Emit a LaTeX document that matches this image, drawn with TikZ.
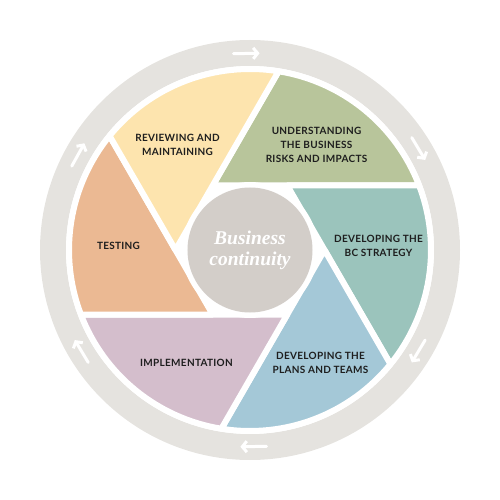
\documentclass[tikz,border=0pt]{standalone}
\usepackage{fontspec}
\setsansfont{Lato}[LetterSpace=3]
\newfontfamily\hubfont{Liberation Serif}
\usetikzlibrary{arrows.meta}
\definecolor{ringgray}{HTML}{E5E3DF}
\definecolor{hubgray}{HTML}{D3CEC9}
\definecolor{bcyellow}{HTML}{FDE4AE}
\definecolor{bcgreen}{HTML}{B8C59B}
\definecolor{bcteal}{HTML}{9BC4BC}
\definecolor{bcblue}{HTML}{A4C8D7}
\definecolor{bcpurple}{HTML}{D4BECC}
\definecolor{bcorange}{HTML}{EBB993}
\definecolor{textdark}{HTML}{1E1E1E}

\begin{document}
\begin{tikzpicture}[x=1pt,y=1pt,
    blade/.style={draw=white,line width=6pt,line join=round},
    phase/.style={align=center,inner sep=0pt,text=textdark,font=\sffamily\bfseries\fontsize{10}{14}\selectfont},
    flow/.style={white,line width=3pt,line cap=round,-{Straight Barb[length=4.5pt,width=11pt]}}]
  \useasboundingbox (-250,-250) rectangle (250,250);
  \fill[ringgray,even odd rule] (0,0) circle[radius=210] (0,0) circle[radius=184];
  \foreach \a in {91,31,-31,-89,-149,151}
    \draw[flow] (\a+3.8:197) -- (\a-3.8:197);
  \foreach \n/\col in {90/bcgreen,30/bcteal,-30/bcblue,-90/bcpurple,-150/bcorange,150/bcyellow}
    \filldraw[blade,fill=\col] (\n+30:74.5) -- (\n-30:74.5) -- (\n-69.1:181)
      arc[start angle=\n-69.1,end angle=\n-9.1,radius=181] -- cycle;
  \fill[white] (0,0) circle[radius=68];
  \node[circle,fill=hubgray,minimum size=125pt,inner sep=0pt,align=center,text=white,
        font=\hubfont\bfseries\itshape\fontsize{19.5}{21}\selectfont] (hub) at (0,0) {Business\\continuity};
  \node[phase] (review) at (-72.5,105.5) {REVIEWING AND\\MAINTAINING};
  \node[phase] (understand) at (66.5,105.5) {UNDERSTANDING\\THE BUSINESS\\RISKS AND IMPACTS};
  \node[phase] (strategy) at (128.5,4) {DEVELOPING THE\\BC STRATEGY};
  \node[phase] (plans) at (70.5,-112.5) {DEVELOPING THE\\PLANS AND TEAMS};
  \node[phase] (implement) at (-63.5,-112.5) {IMPLEMENTATION};
  \node[phase] (testing) at (-131.5,4.5) {TESTING};
\end{tikzpicture}
\end{document}
